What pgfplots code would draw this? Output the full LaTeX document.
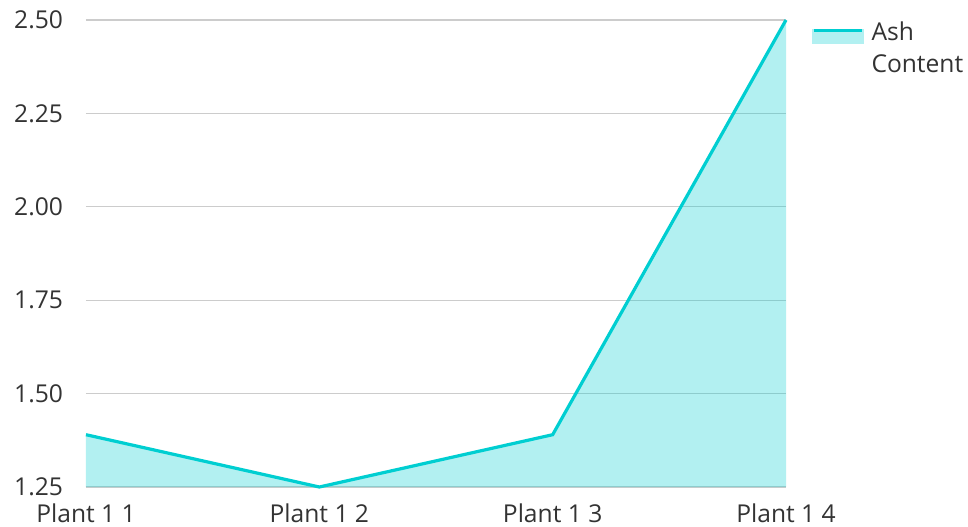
\documentclass[border=0pt]{standalone}
\usepackage{pgfplots}
\pgfplotsset{compat=1.18}
\usepackage{fontspec}
\setmainfont{Open Sans}
\definecolor{linec}{HTML}{00CED1}
\definecolor{fillc}{HTML}{B2F0F1}
\definecolor{gridc}{HTML}{CCCCCC}
\definecolor{textc}{HTML}{333333}
\begin{document}
\begin{tikzpicture}
\useasboundingbox (0,0) rectangle (484pt,263pt);
\begin{axis}[
  at={(43pt,19.5pt)}, anchor=south west,
  scale only axis, width=350pt, height=233.5pt,
  xmin=0, xmax=3, ymin=1.25, ymax=2.5,
  xtick={0,1,2,3},
  xticklabels={Plant 1 1, Plant 1 2, Plant 1 3, Plant 1 4},
  ytick={1.25,1.5,1.75,2,2.25,2.5},
  yticklabel style={/pgf/number format/fixed, /pgf/number format/fixed zerofill, /pgf/number format/precision=2},
  /pgf/number format/assume math mode=true,
  tick label style={font=\fontsize{12.3pt}{14pt}\selectfont, text=textc},
  yticklabel style={xshift=-8pt},
  xticklabel style={yshift=-5pt},
  axis line style={draw=none},
  major tick length=0pt,
  ymajorgrids, grid style={gridc, line width=0.6pt},
  clip=false,
  legend style={at={(1.037,1.0097)}, anchor=north west, draw=none, fill=none,
    font=\fontsize{12.3pt}{16pt}\selectfont, text=textc, inner sep=0pt, cells={align=left}},
  legend cell align=left,
  legend image code/.code={
    \fill[fillc] (0pt,3pt) rectangle (24pt,9pt);
    \draw[linec, line width=1.6pt] (0pt,9pt) -- (24pt,9pt);
  },
  legend style={nodes={inner sep=3pt}},
]
\addplot[draw=none, fill=linec, fill opacity=0.3, forget plot] coordinates {(0,1.25) (0,1.39) (1,1.25) (2,1.39) (3,2.5) (3,1.25)} -- cycle;
\addplot[linec, line width=1.6pt, mark=none] coordinates {(0,1.39) (1,1.25) (2,1.39) (3,2.5)};
\addlegendentry{\hspace{1pt}Ash\\\hspace{1pt}Content}
\end{axis}
\end{tikzpicture}
\end{document}
